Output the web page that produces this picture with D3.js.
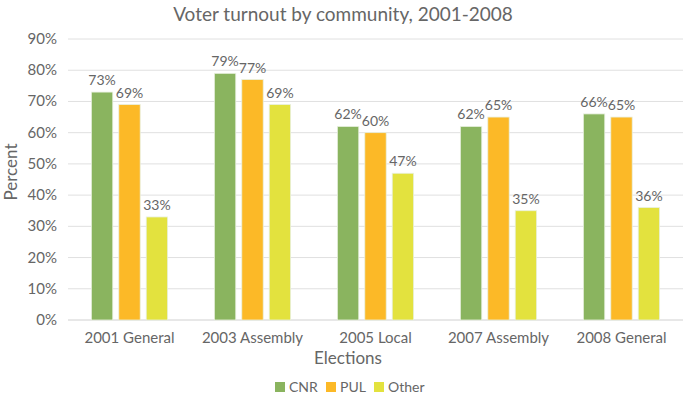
<html>
<head>
<style>
  body { margin: 0; background: #fff; }
  text { font-family: Lato, "Open Sans", sans-serif; fill: #666666; }
</style>
</head>
<body>
<svg id="chart" width="685" height="399"></svg>
<script src="https://d3js.org/d3.v7.min.js"></script>
<script>
const elections = ["2001 General", "2003 Assembly", "2005 Local", "2007 Assembly", "2008 General"]
const groups = ["CNR", "PUL", "Other"]
const cnr = [73, 79, 62, 62, 66]
const pul = [69, 77, 60, 65, 65]
const other = [33, 69, 47, 35, 36]
const yTicks = [0, 10, 20, 30, 40, 50, 60, 70, 80, 90]
const colors = ["#8AB45F", "#FCB927", "#E3E23E"]

const values = [cnr, pul, other]
const svg = d3.select("#chart")

const plotLeft = 68, plotRight = 683, plotTop = 39, plotBottom = 320

let x = d3.scaleBand().domain(elections).range([plotLeft, plotRight]).paddingInner(0.38).paddingOuter(0.19)
let xs = d3.scaleBand().domain(groups).range([0, x.bandwidth()]).paddingInner(0.22)
let y = d3.scaleLinear().domain([0, 90]).range([plotBottom, plotTop])

// title
svg.append("text").attr("x", 343).attr("y", 21).attr("text-anchor", "middle")
  .style("font-size", "19px").text("Voter turnout by community, 2001-2008")

// grid
svg.append("g").selectAll("line").data(yTicks).join("line")
  .attr("x1", plotLeft).attr("x2", plotRight)
  .attr("y1", d => y(d)).attr("y2", d => y(d))
  .attr("stroke", d => d == 0 ? "#d0d0d0" : "#e0e0e0").attr("stroke-width", 1)

svg.append("g").selectAll("text").data(yTicks).join("text")
  .attr("x", 57).attr("y", d => y(d) + 5).attr("text-anchor", "end")
  .style("font-size", "15px").text(d => d + "%")

// bars
elections.forEach((e, i) => {
  let g = svg.append("g").attr("transform", `translate(${x(e)},0)`)
  groups.forEach((s, j) => {
    let v = values[j][i]
    g.append("rect").attr("x", xs(s)).attr("y", y(v))
      .attr("width", xs.bandwidth()).attr("height", y(0) - y(v))
      .attr("fill", colors[j]).attr("stroke", "#e8f0df").attr("stroke-width", 0.8)
    g.append("text").attr("x", xs(s) + xs.bandwidth() / 2).attr("y", y(v) - 7)
      .attr("text-anchor", "middle").style("font-size", "14px").text(v + "%")
  })
})

// x labels
svg.append("g").selectAll("text").data(elections).join("text")
  .attr("x", d => x(d) + x.bandwidth() / 2).attr("y", 343)
  .attr("text-anchor", "middle").style("font-size", "15px").text(d => d)

svg.append("text").attr("x", 348).attr("y", 364).attr("text-anchor", "middle")
  .style("font-size", "17px").text("Elections")
svg.append("text").attr("transform", "translate(17,172) rotate(-90)")
  .attr("text-anchor", "middle").style("font-size", "17px").text("Percent")

// legend
let legX = [275, 326, 374]
groups.forEach((s, j) => {
  svg.append("rect").attr("x", legX[j]).attr("y", 382).attr("width", 10).attr("height", 10).attr("fill", colors[j])
  svg.append("text").attr("x", legX[j] + 14).attr("y", 392).style("font-size", "14px").text(s)
})
</script>
</body>
</html>
